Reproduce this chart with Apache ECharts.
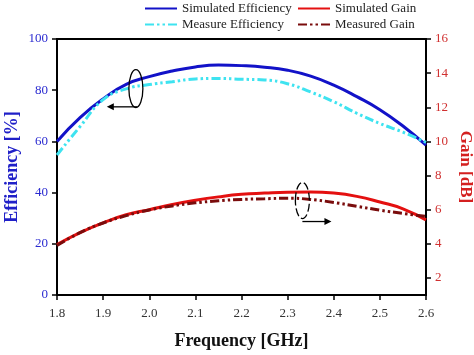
<!DOCTYPE html>
<html>
<head>
<meta charset="utf-8">
<script src="https://cdn.jsdelivr.net/npm/echarts@6/dist/echarts.min.js"></script>
<style>html,body{margin:0;padding:0;background:#fff}#c{width:474px;height:355px}</style>
</head>
<body>
<div id="c"></div>
<script>
var freq = [1.80,1.85,1.90,1.95,2.00,2.05,2.10,2.15,2.20,2.25,2.30,2.35,2.40,2.45,2.50,2.55,2.60];
var simEff = [60.0,69.3,76.6,82.3,85.3,87.5,89.1,89.8,89.6,89.0,87.8,85.5,82.0,77.5,72.4,66.0,58.5];
var measEff = [54.7,65.8,76.3,80.5,82.2,83.3,84.4,84.6,84.3,84.0,82.5,79.3,75.5,71.0,67.0,63.6,59.6];
var simGain = [3.95,4.65,5.23,5.70,6.00,6.30,6.55,6.75,6.90,6.97,7.02,7.03,6.97,6.78,6.45,6.05,5.40];
var measGain = [3.90,4.65,5.22,5.65,5.98,6.22,6.40,6.52,6.60,6.64,6.67,6.60,6.42,6.20,5.97,5.78,5.60];
var gainTicks = [2,4,6,8,10,12,14,16];
var seriesNames = ['Simulated Efficiency','Measure Efficiency','Simulated Gain','Measured Gain'];

function pairs(v){ return freq.map(function(f,i){ return [f, v[i]]; }); }
var serif = '"Liberation Serif","Times New Roman",serif';
var chart = echarts.init(document.getElementById('c'));
var dashDot2 = [9,3,2.5,3,2.5,3];
chart.setOption({
  animation:false,
  textStyle:{fontFamily:serif},
  grid:{left:57,right:48,top:39,bottom:60,containLabel:false,outerBoundsMode:'none',
        show:true,borderColor:'#000',borderWidth:2,backgroundColor:'transparent'},
  legend:[
    {left:144,top:2,padding:0,orient:'vertical',itemGap:3,itemWidth:32,itemHeight:12,itemStyle:{opacity:0},
     data:[seriesNames[0],seriesNames[1]],textStyle:{fontFamily:serif,fontSize:13,color:'#222'}},
    {left:297,top:2,padding:0,orient:'vertical',itemGap:3,itemWidth:32,itemHeight:12,itemStyle:{opacity:0},
     data:[seriesNames[2],seriesNames[3]],textStyle:{fontFamily:serif,fontSize:13,color:'#222'}}
  ],
  xAxis:{type:'value',min:1.8,max:2.6,interval:0.1,
    name:'Frequency [GHz]',nameLocation:'middle',nameGap:37,nameMoveOverlap:false,
    nameTextStyle:{fontFamily:serif,fontSize:18,fontWeight:'bold',color:'#111'},
    axisLine:{show:true,lineStyle:{color:'#000',width:2}},
    axisTick:{show:true,length:5,lineStyle:{color:'#000',width:1.5}},
    axisLabel:{fontFamily:serif,fontSize:13,color:'#333',margin:12,formatter:function(v){return v.toFixed(1);}},
    splitLine:{show:false}},
  yAxis:[
    {type:'value',min:0,max:100,interval:20,position:'left',
     name:'Efficiency [%]',nameLocation:'middle',nameGap:36,nameRotate:90,nameMoveOverlap:false,
     nameTextStyle:{fontFamily:serif,fontSize:18,fontWeight:'bold',color:'#2020c8'},
     axisLine:{show:true,lineStyle:{color:'#000',width:2}},
     axisTick:{show:true,length:5,lineStyle:{color:'#000',width:1.5}},
     axisLabel:{fontFamily:serif,fontSize:13,color:'#2a2ad0',margin:9},
     splitLine:{show:false}},
    {type:'value',min:1,max:16,position:'right',
     name:'Gain [dB]',nameLocation:'middle',nameGap:31,nameRotate:-90,nameMoveOverlap:false,
     nameTextStyle:{fontFamily:serif,fontSize:17,fontWeight:'bold',color:'#d42020'},
     axisLine:{show:true,lineStyle:{color:'#000',width:2}},
     axisTick:{show:true,length:5,customValues:gainTicks,lineStyle:{color:'#000',width:1.5}},
     axisLabel:{fontFamily:serif,fontSize:13,color:'#d03030',margin:9,customValues:gainTicks},
     splitLine:{show:false}}
  ],
  series:[
    {name:seriesNames[0],type:'line',yAxisIndex:0,smooth:true,showSymbol:false,symbol:'none',
     data:pairs(simEff),lineStyle:{color:'#1212c8',width:3},itemStyle:{color:'#1212c8'},z:3},
    {name:seriesNames[1],type:'line',yAxisIndex:0,smooth:true,showSymbol:false,symbol:'none',
     data:pairs(measEff),lineStyle:{color:'#3ee3f0',width:3,type:dashDot2},itemStyle:{color:'#3ee3f0'},z:4},
    {name:seriesNames[2],type:'line',yAxisIndex:1,smooth:true,showSymbol:false,symbol:'none',
     data:pairs(simGain),lineStyle:{color:'#e41010',width:3},itemStyle:{color:'#e41010'},z:3},
    {name:seriesNames[3],type:'line',yAxisIndex:1,smooth:true,showSymbol:false,symbol:'none',
     data:pairs(measGain),lineStyle:{color:'#7a0c0c',width:3,type:dashDot2},itemStyle:{color:'#7a0c0c'},z:4}
  ]
});

// annotations (ellipses + arrows) placed in data coordinates
function px(f,e){ return chart.convertToPixel({xAxisIndex:0,yAxisIndex:0},[f,e]); }
var c1 = px(1.971,80.6), a1s = px(1.974,73.5), a1e = px(1.908,73.5);
var c2 = px(2.332,36.9), a2s = px(2.332,28.7), a2e = px(2.395,28.7);
function arrowHead(p, dir){
  return {type:'polygon',shape:{points:[[p[0],p[1]],[p[0]-dir*7,p[1]-3.5],[p[0]-dir*7,p[1]+3.5]]},style:{fill:'#000'},z:10};
}
chart.setOption({graphic:[
  {type:'ellipse',shape:{cx:c1[0],cy:c1[1],rx:7,ry:19},style:{fill:'none',stroke:'#000',lineWidth:1.3},z:10},
  {type:'line',shape:{x1:a1s[0],y1:a1s[1],x2:a1e[0]+5,y2:a1e[1]},style:{stroke:'#000',lineWidth:1.3},z:10},
  arrowHead(a1e,-1),
  {type:'ellipse',shape:{cx:c2[0],cy:c2[1],rx:7,ry:18},style:{fill:'none',stroke:'#000',lineWidth:1.3,lineDash:[8,3]},z:10},
  {type:'line',shape:{x1:a2s[0],y1:a2s[1],x2:a2e[0]-5,y2:a2e[1]},style:{stroke:'#000',lineWidth:1.3},z:10},
  arrowHead(a2e,1)
]});
</script>
</body>
</html>
